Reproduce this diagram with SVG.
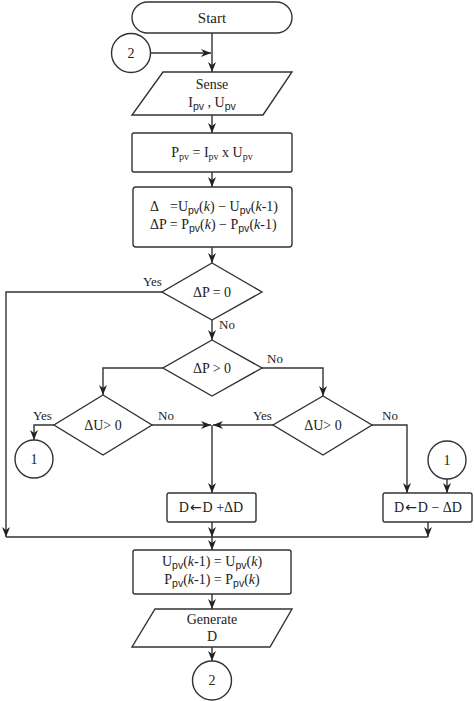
<svg xmlns="http://www.w3.org/2000/svg" width="474" height="701" viewBox="0 0 474 701">
<style>
.s{fill:#fff;stroke:#333;stroke-width:1.4}
.c{fill:none;stroke:#333;stroke-width:1.4}
text{font-family:"Liberation Serif","Times New Roman",serif;font-size:14px;fill:#222}
.m{text-anchor:middle}
.l{font-size:13px}
.sub{font-size:10px}
.ss{font-size:10.5px;font-family:"Liberation Sans",Arial,sans-serif}
.arr{font-family:"DejaVu Sans",sans-serif;font-size:14px}
</style>
<defs>
<marker id="ah" markerUnits="userSpaceOnUse" markerWidth="10" markerHeight="8" refX="10" refY="4" orient="auto">
<path d="M0,0 L10,4 L0,8 L3,4 z" fill="#222"/>
</marker>
</defs>
<g id="connectors" class="c">
<path d="M212,33 V72" marker-end="url(#ah)"/>
<path d="M150.5,53 H211" marker-end="url(#ah)"/>
<path d="M212,115 V133" marker-end="url(#ah)"/>
<path d="M212,172 V187" marker-end="url(#ah)"/>
<path d="M212,247 V263" marker-end="url(#ah)"/>
<path d="M162,292 H6 V537" marker-end="url(#ah)"/>
<path d="M212,320 V340" marker-end="url(#ah)"/>
<path d="M163,368 H103 V395" marker-end="url(#ah)"/>
<path d="M262,368 H323 V396" marker-end="url(#ah)"/>
<path d="M54,425 H34 V440" marker-end="url(#ah)"/>
<path d="M152,425 H211" marker-end="url(#ah)"/>
<path d="M273,425 H213" marker-end="url(#ah)"/>
<path d="M212,425 V493" marker-end="url(#ah)"/>
<path d="M372,425 H407 V493" marker-end="url(#ah)"/>
<path d="M447,479 V493" marker-end="url(#ah)"/>
<path d="M212,522 V537" marker-end="url(#ah)"/>
<path d="M428,522 V537" marker-end="url(#ah)"/>
<path d="M6,537 H428"/>
<path d="M212,537 V550" marker-end="url(#ah)"/>
<path d="M212,594 V609" marker-end="url(#ah)"/>
<path d="M212,647 V661" marker-end="url(#ah)"/>
</g>
<g id="start">
<rect class="s" x="132" y="2" width="160" height="31" rx="15.5"/>
<text class="m" x="212" y="23" style="font-size:15px">Start</text>
</g>
<g id="conn2top">
<circle class="s" cx="131" cy="53" r="19.5"/>
<text class="m" x="131" y="58">2</text>
</g>
<g id="sense">
<path class="s" d="M163,72 H292 L263,115 H132 Z"/>
<text class="m" x="212" y="89">Sense</text>
<text class="m" x="212" y="107">I<tspan class="ss" dy="3">pv</tspan><tspan dy="-3"> , U</tspan><tspan class="ss" dy="3">pv</tspan></text>
</g>
<g id="power">
<rect class="s" x="132" y="133" width="160" height="39" rx="2"/>
<text class="m" x="212" y="157">P<tspan class="sub" dy="3">pv</tspan><tspan dy="-3"> = I</tspan><tspan class="sub" dy="3">pv</tspan><tspan dy="-3"> x U</tspan><tspan class="sub" dy="3">pv</tspan></text>
</g>
<g id="delta">
<rect class="s" x="133" y="187" width="159" height="60" rx="3"/>
<text x="150" y="211">Δ</text>
<text x="170" y="211">=U<tspan class="ss" dy="3">pv</tspan><tspan dy="-3">(<tspan font-style="italic">k</tspan>) − U</tspan><tspan class="ss" dy="3">pv</tspan><tspan dy="-3">(<tspan font-style="italic">k</tspan>-1)</tspan></text>
<text x="150" y="229">ΔP = P<tspan class="ss" dy="3">pv</tspan><tspan dy="-3">(<tspan font-style="italic">k</tspan>) − P</tspan><tspan class="ss" dy="3">pv</tspan><tspan dy="-3">(<tspan font-style="italic">k</tspan>-1)</tspan></text>
</g>
<g id="dp0">
<path class="s" d="M212,263 L262,292 L212,320 L162,292 Z"/>
<text class="m" x="212" y="297">ΔP = 0</text>
<text class="l" x="143" y="286">Yes</text>
<text class="l" x="219" y="329">No</text>
</g>
<g id="dpgt0">
<path class="s" d="M212,340 L262,368 L212,396 L163,368 Z"/>
<text class="m" x="212" y="373">ΔP &gt; 0</text>
<text class="l" x="267" y="363">No</text>
</g>
<g id="dugt0left">
<path class="s" d="M103,395 L152,425 L103,455 L54,425 Z"/>
<text class="m" x="103" y="430">ΔU&gt; 0</text>
<text class="l" x="33" y="420">Yes</text>
<text class="l" x="158" y="420">No</text>
</g>
<g id="dugt0right">
<path class="s" d="M323,396 L372,425 L323,455 L273,425 Z"/>
<text class="m" x="323" y="430">ΔU&gt; 0</text>
<text class="l" x="253" y="420">Yes</text>
<text class="l" x="382" y="420">No</text>
</g>
<g id="conn1left">
<circle class="s" cx="34" cy="459" r="19"/>
<text class="m" x="34" y="464">1</text>
</g>
<g id="conn1right">
<circle class="s" cx="447" cy="460" r="19"/>
<text class="m" x="447" y="465">1</text>
</g>
<g id="inc">
<rect class="s" x="167" y="493" width="89" height="29" rx="2"/>
<text class="m" x="211" y="512">D<tspan class="arr" dx="1">←</tspan><tspan dx="1">D +ΔD</tspan></text>
</g>
<g id="dec">
<rect class="s" x="383" y="493" width="89" height="29" rx="2"/>
<text class="m" x="428" y="512">D<tspan class="arr" dx="1">←</tspan><tspan dx="1">D − ΔD</tspan></text>
</g>
<g id="update">
<rect class="s" x="133" y="550" width="158" height="44" rx="2"/>
<text class="m" x="212" y="566">U<tspan class="ss" dy="3">pv</tspan><tspan dy="-3">(<tspan font-style="italic">k</tspan>-1) = U</tspan><tspan class="ss" dy="3">pv</tspan><tspan dy="-3">(<tspan font-style="italic">k</tspan>)</tspan></text>
<text class="m" x="212" y="584">P<tspan class="ss" dy="3">pv</tspan><tspan dy="-3">(<tspan font-style="italic">k</tspan>-1) = P</tspan><tspan class="ss" dy="3">pv</tspan><tspan dy="-3">(<tspan font-style="italic">k</tspan>)</tspan></text>
</g>
<g id="generate">
<path class="s" d="M155,609 H292 L270,647 H132 Z"/>
<text class="m" x="212" y="624">Generate</text>
<text class="m" x="212" y="641">D</text>
</g>
<g id="conn2bottom">
<circle class="s" cx="212" cy="680.5" r="19.5"/>
<text class="m" x="212" y="685">2</text>
</g>
</svg>
